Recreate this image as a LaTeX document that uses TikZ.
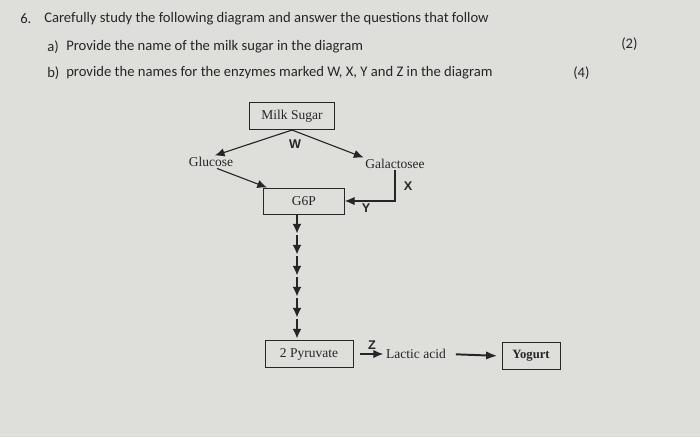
\documentclass[tikz,border=0pt]{standalone}
\usepackage{fontspec}
\setmainfont{Liberation Serif}
\newfontfamily\qfont{Carlito}
\newfontfamily\lblfont{Liberation Sans}
\usetikzlibrary{arrows.meta}
\definecolor{paper}{RGB}{222,222,219}
\definecolor{ink}{RGB}{38,38,38}

\begin{document}
\begin{tikzpicture}[x=0.025cm,y=-0.025cm]
	\tikzstyle{qtext} = [anchor=west,inner sep=0pt,font=\qfont\fontsize{10.4}{12}\selectfont, text=ink]
	\tikzstyle{sugarbox} = [draw=ink,line width=0.6pt,shape=rectangle,font=\fontsize{9.6}{11}\selectfont, text=ink, minimum height=0.68cm]
	\tikzstyle{sugar} = [inner sep=1pt,font=\fontsize{9.6}{11}\selectfont, text=ink]
	\tikzstyle{enzyme} = [inner sep=0pt,font=\lblfont\bfseries\fontsize{9}{10}\selectfont, text=ink]
	\tikzstyle{pathedge} = [-{Latex[length=7pt,width=6pt]}, draw=ink, line width=0.8pt]
	\tikzstyle{chainedge} = [-{Latex[length=7pt,width=6.5pt]}, draw=ink, line width=1.5pt, shorten >=1pt]

	\fill[paper] (0,0) rectangle (700,437);
	\useasboundingbox (0,0) rectangle (700,437);

	% QUESTION %
	\node[qtext] (q6) at (20,19) {6.};
	\node[qtext] (qmain) at (44,19) {Carefully study the following diagram and answer the questions that follow};
	\node[qtext] (qa) at (47,47) {a)};
	\node[qtext] (qatext) at (66,47) {Provide the name of the milk sugar in the diagram};
	\node[qtext] (qamarks) at (621,44) {(2)};
	\node[qtext] (qb) at (47,73) {b)};
	\node[qtext] (qbtext) at (66,73) {provide the names for the enzymes marked W, X, Y and Z in the diagram};
	\node[qtext] (qbmarks) at (573,73) {(4)};

	% NODES %
	\node[sugarbox, minimum width=2.12cm] (milk) at (292,116) {Milk Sugar};
	\node[sugar] (glucose) at (211,162) {Glucose};
	\node[sugar] (galac) at (395,164) {Galactosee};
	\node[sugarbox, minimum width=2.02cm, minimum height=0.65cm] (g6p) at (304,201) {G6P};
	\node[sugarbox, minimum width=2.2cm] (pyr) at (309,354) {2 Pyruvate};
	\node[sugar] (lactic) at (416,354) {Lactic acid};
	\node[sugarbox, minimum width=1.45cm, font=\bfseries\fontsize{9}{11}\selectfont] (yogurt) at (531,356) {Yogurt};

	\foreach \i in {0,...,5}
		\coordinate (c\i) at (297,214+21*\i);
	\coordinate (c6) at (297,340);

	% EDGES %
	%W
	\draw[pathedge] (milk.south) -- (glucose.60);
	\draw[pathedge] (milk.south) -- (galac.north west);
	\node[enzyme] (w) at (295,144) {W};
	%glucose
	\draw[pathedge] (glucose.south) ++(6,0) coordinate (gs) (gs) -- (g6p.160);
	%X and Y
	\draw[pathedge] (galac.south) |- (g6p.east);
	\node[enzyme] (x) at (408,186) {X};
	\node[enzyme] (y) at (366,208) {Y};
	%glycolysis
	\foreach \i/\j in {0/1,1/2,2/3,3/4,4/5,5/6}
		\draw[chainedge] (c\i) -- (c\j);
	%Z
	\draw[pathedge, shorten <=5pt, shorten >=1pt] (pyr.east) -- (lactic.west);
	\node[enzyme] (z) at (372,345) {Z};
	\draw[-{Latex[length=8pt,width=6pt]}, draw=ink, line width=1.4pt, shorten <=6pt, shorten >=3pt] (lactic.east) -- (yogurt.west);
\end{tikzpicture}
\end{document}
